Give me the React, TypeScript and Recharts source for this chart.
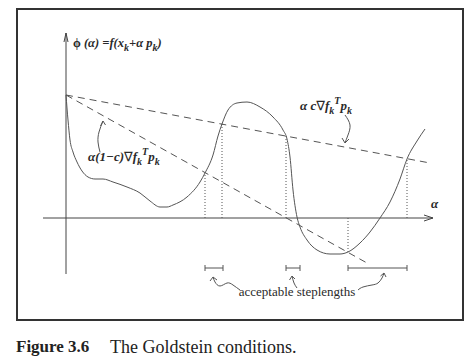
import { ComposedChart, Line, XAxis, YAxis, ReferenceDot } from 'recharts'

// coordinates: a = step length alpha, p = phi(alpha)
type Pt = { a: number; p: number }
const pts = (arr: number[][]): Pt[] => arr.map(([a, p]) => ({ a, p }))

const phiCurve = pts([
  [0, 12.3], [0.2, 9.8], [0.4, 7.8], [0.7, 6.6], [1.1, 5.6], [1.6, 4.7], [2.2, 4.1],
  [2.9, 3.9], [3.7, 3.9], [4.7, 3.6], [6.1, 3.1], [7.4, 2.5], [8.4, 1.7], [9.4, 1.1],
  [10.1, 1.1], [10.7, 1.3], [12.1, 2.1], [13.4, 3.6], [13.9, 4.5], [14.7, 6.3],
  [15.2, 8.2], [15.6, 9.4], [16.2, 10.8], [17.1, 11.5], [18.1, 11.6], [19.4, 11.1],
  [20.7, 10.1], [21.7, 8.8], [22.1, 7.9], [22.4, 6.1], [22.7, 2.8], [23.1, 0.1],
  [23.4, -0.9], [24.1, -2.2], [25.1, -3.2], [26.4, -3.6], [27.4, -3.6], [28.2, -3.4],
  [29.4, -2.5], [30.4, -1.4], [31.4, 0], [32.4, 1.6], [33.4, 3.9], [34.1, 5.9],
  [35.1, 7.7], [35.9, 8.9],
])

const cLine = pts([[0, 12.3], [36.4, 5.5]])
const oneMinusCLine = pts([[0, 12.3], [30.1, -4.5]])

const xAxisLine = pts([[-2.3, 0], [36.7, 0]])
const xArrow = pts([[35.8, 0.3], [36.7, 0], [35.8, -0.3]])
const yAxisLine = pts([[0, -5.6], [0, 18.5]])
const yArrow = pts([[-0.2, 17.6], [0, 18.5], [0.2, 17.6]])

// dotted drops from the curve to the alpha axis
const drops = [
  pts([[13.9, 0], [13.9, 4.5]]),
  pts([[15.6, 0], [15.6, 9.4]]),
  pts([[22.0, 0], [22.0, 8.2]]),
  pts([[28.2, 0], [28.2, -3.4]]),
  pts([[34.1, 0], [34.1, 5.9]]),
]

// acceptable intervals
const intervals = [[13.9, 15.7], [22.0, 23.4], [28.2, 34.1]]
const bracketY = -5.0

const arrowOneMinusC = pts([[3.4, 6.6], [3.2, 7.6], [3.3, 8.6], [3.7, 9.7]])
const headOneMinusC = pts([[3.45, 9.2], [3.7, 9.7], [3.95, 9.3]])
const arrowC = pts([[27.9, 10.3], [28.4, 9.3], [28.2, 8.3], [27.9, 7.5]])
const headC = pts([[27.6, 8.0], [27.9, 7.5], [28.3, 7.9]])
const waveLeft = pts([[17.4, -7.2], [16.7, -6.7], [16.1, -6.5], [15.4, -6.8], [14.9, -6.4], [14.7, -5.9]])
const headLeft = pts([[14.4, -6.3], [14.7, -5.9], [15.1, -6.2]])
const waveMid = pts([[23.1, -7.0], [22.8, -6.5], [22.6, -5.8]])
const headMid = pts([[22.35, -6.2], [22.6, -5.8], [22.9, -6.1]])
const waveRight = pts([[29.2, -7.2], [29.7, -6.9], [30.6, -6.7], [31.2, -6.5], [31.6, -6.0], [31.8, -5.5]])
const headRight = pts([[31.45, -5.8], [31.8, -5.5], [32.0, -5.9]])

const ink = '#555'
const txt = '#2a2a2a'
const serif = '"Liberation Serif", "DejaVu Serif", serif'

const seg = (key: string, data: Pt[], extra: Record<string, unknown> = {}) => (
  <Line
    key={key}
    data={data}
    dataKey="p"
    type="linear"
    stroke={ink}
    strokeWidth={1}
    dot={false}
    activeDot={false}
    isAnimationActive={false}
    {...extra}
  />
)

const mathText = (content: React.ReactNode, anchor = 'start', size = 13) =>
  (props: { cx?: number; cy?: number }) => (
    <text
      x={props.cx}
      y={props.cy}
      textAnchor={anchor}
      fontFamily={serif}
      fontSize={size}
      fontStyle="italic"
      fontWeight="bold"
      fill={txt}
    >
      {content}
    </text>
  )

const Nabla = () => (
  <tspan fontStyle="normal" fontWeight="normal" fontFamily='"DejaVu Sans", sans-serif' fontSize={13}>∇</tspan>
)

export default function App() {
  const bracketLines = intervals.flatMap(([l, r], i) => [
    seg(`br${i}`, pts([[l, bracketY], [r, bracketY]])),
    seg(`bl${i}`, pts([[l, bracketY - 0.3], [l, bracketY + 0.3]])),
    seg(`bt${i}`, pts([[r, bracketY - 0.3], [r, bracketY + 0.3]])),
  ])

  return (
    <div style={{ position: 'relative', width: 458, height: 352, fontFamily: serif }}>
      <div
        style={{
          position: 'absolute', left: 8, top: 0, width: 448, height: 313,
          border: '2px solid #333', boxSizing: 'border-box',
        }}
      />
      <div style={{ position: 'absolute', left: 8, top: 0 }}>
        <ComposedChart width={448} height={313} margin={{ top: 0, right: 0, bottom: 0, left: 0 }}>
          <XAxis type="number" dataKey="a" domain={[-5, 39.8]} allowDataOverflow hide />
          <YAxis type="number" domain={[-10.3, 21]} allowDataOverflow hide />
          {seg('xaxis', xAxisLine, { stroke: '#444' })}
          {seg('xarrow', xArrow, { stroke: '#444' })}
          {seg('yaxis', yAxisLine, { stroke: '#444' })}
          {seg('yarrow', yArrow, { stroke: '#444' })}
          {seg('cline', cLine, { strokeDasharray: '7 5' })}
          {seg('omcline', oneMinusCLine, { strokeDasharray: '7 5' })}
          {drops.map((d, i) => seg(`drop${i}`, d, { strokeDasharray: '1 2' }))}
          {bracketLines}
          {seg('phi', phiCurve, { type: 'monotone', stroke: '#555' })}
          {seg('arr1', arrowOneMinusC, { type: 'natural' })}
          {seg('head1', headOneMinusC)}
          {seg('arr2', arrowC, { type: 'natural' })}
          {seg('head2', headC)}
          {seg('wl', waveLeft, { type: 'natural' })}
          {seg('hl', headLeft)}
          {seg('wm', waveMid, { type: 'natural' })}
          {seg('hm', headMid)}
          {seg('wr', waveRight, { type: 'natural' })}
          {seg('hr', headRight)}
          <ReferenceDot
            x={0.7}
            y={17.1}
            r={1}
            shape={mathText(
              <>
                <tspan fontStyle="normal">ϕ</tspan> (α) =f(x
                <tspan dy={4} fontSize={10}>k</tspan>
                <tspan dy={-4}>+α p</tspan>
                <tspan dy={4} fontSize={10}>k</tspan>
                <tspan dy={-4}>)</tspan>
              </>,
              'start',
              12.5
            )}
          />
          <ReferenceDot
            x={23.4}
            y={10.8}
            r={1}
            shape={mathText(
              <>
                α c<Nabla />f
                <tspan dy={4} fontSize={10}>k</tspan>
                <tspan dy={-10} fontSize={10}>T</tspan>
                <tspan dy={6}>p</tspan>
                <tspan dy={4} fontSize={10}>k</tspan>
              </>
            )}
          />
          <ReferenceDot
            x={2.2}
            y={5.7}
            r={1}
            shape={mathText(
              <>
                α(1−c)<Nabla />f
                <tspan dy={4} fontSize={10}>k</tspan>
                <tspan dy={-10} fontSize={10}>T</tspan>
                <tspan dy={6}>p</tspan>
                <tspan dy={4} fontSize={10}>k</tspan>
              </>
            )}
          />
          <ReferenceDot
            x={36.5}
            y={1.0}
            r={1}
            shape={mathText('α', 'start', 13)}
          />
          <ReferenceDot
            x={23.1}
            y={-7.8}
            r={1}
            shape={(props: { cx?: number; cy?: number }) => (
              <text x={props.cx} y={props.cy} textAnchor="middle" fontFamily={serif} fontSize={13} fill={txt}>
                acceptable steplengths
              </text>
            )}
          />
        </ComposedChart>
      </div>
      <div style={{ position: 'absolute', left: 8, top: 329, fontSize: 17, lineHeight: '20px', color: '#222', fontWeight: 'bold' }}>
        Figure 3.6
      </div>
      <div style={{ position: 'absolute', left: 102, top: 329, fontSize: 18, lineHeight: '20px', color: '#222' }}>
        The Goldstein conditions.
      </div>
    </div>
  )
}
